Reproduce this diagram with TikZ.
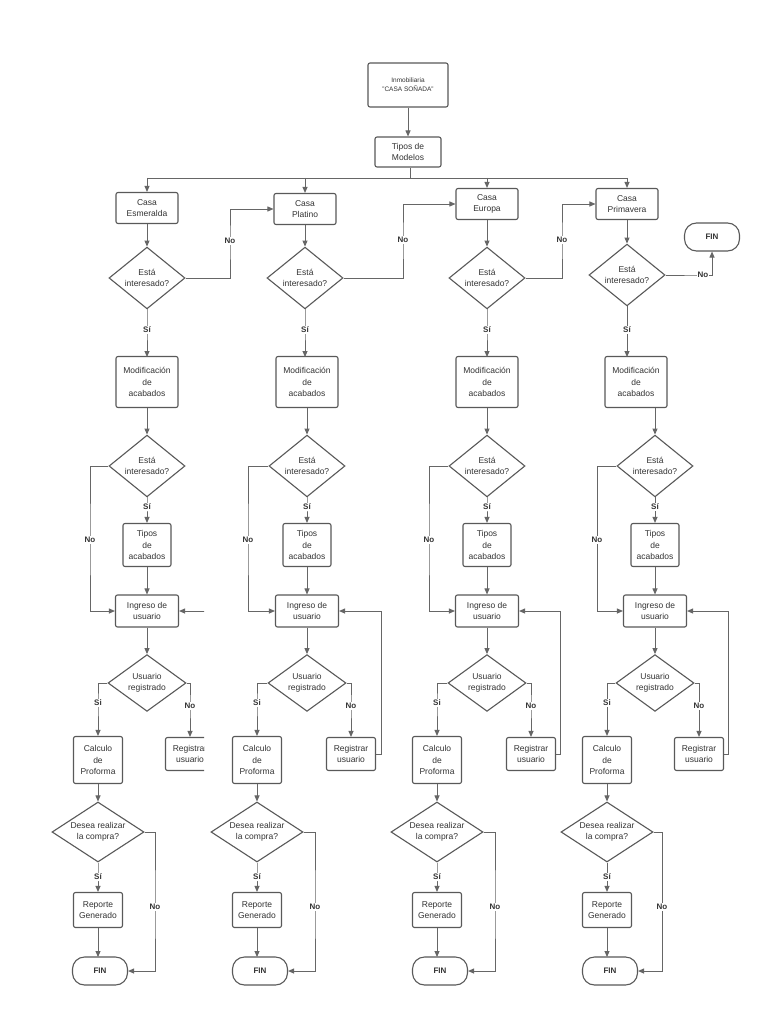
\documentclass[tikz,border=0pt]{standalone}
\usepackage{fontspec}
\setmainfont{Liberation Sans}
\usetikzlibrary{shapes.geometric,arrows.meta}
\begin{document}
\begin{tikzpicture}[x=1pt,y=-1pt,
  box/.style={draw=black!65,line width=1.1pt,rounded corners=2pt,fill=white,align=center,inner sep=1pt,font=\fontsize{8.5}{11.5}\selectfont,text=black!80},
  dia/.style={draw=black!65,line width=1.1pt,diamond,fill=white,align=center,inner sep=0pt,font=\fontsize{8.5}{11}\selectfont,text=black!80},
  term/.style={draw=black!65,line width=1.1pt,rounded corners=12pt,fill=white,minimum width=55pt,minimum height=28pt,font=\bfseries\fontsize{8}{10}\selectfont,text=black!80},
  arr/.style={draw=black!60,line width=0.9pt,-{Triangle[length=6pt,width=5pt]}},
  ln/.style={draw=black!60,line width=0.9pt},
  lbl/.style={fill=white,inner sep=1pt,font=\bfseries\fontsize{8}{9}\selectfont,text=black!80}]
\useasboundingbox[fill=white] (0,0) rectangle (768,1024);
\node[box,minimum width=80pt,minimum height=44pt,font=\fontsize{6.5}{9}\selectfont] (inmo) at (408,85) {Inmobiliaria\\"CASA SOÑADA"};
\node[box,minimum width=66pt,minimum height=30pt] (tipos) at (408,152) {Tipos de\\Modelos};
\draw[arr] (inmo.south) -- (tipos.south |- tipos.north);
\draw[ln] (tipos.south -| 410,0) -- (410,178);
\draw[ln] (147,178) -- (627,178);
\foreach \i/\cx/\cy/\ct/\dy/\mx/\dx/\ax/\rx/\lx/\nx/\fx/\ox/\cl in {
 1/147/208/{Casa\\Esmeralda}/278/147/147/98/190/220/155/100/90/204,
 2/305/209/{Casa\\Platino}/278/307/307/257/351/381/315/260/248/768,
 3/487/204/{Casa\\Europa}/278/487/487/437/531/560/495/440/429/768,
 4/627/204/{Casa\\Primavera}/275/636/655/607/699/728/662/610/597/768}{
 \node[box,minimum width=62pt,minimum height=31pt] (casa\i) at (\cx,\cy) {\ct};
 \draw[arr] (\cx,178) -- (casa\i.north);
 \node[dia,minimum width=76pt,minimum height=54pt] (da\i) at (\cx,\dy) {Está\\interesado?};
 \draw[arr] (casa\i.south) -- (da\i.north);
 \node[box,minimum width=62pt,minimum height=51pt] (mod\i) at (\mx,382) {Modificación\\de\\acabados};
 \draw[arr] (da\i.south) -- (\cx,330) node[lbl]{Sí} -- (\cx,357);
 \node[dia,minimum width=76pt,minimum height=54pt] (db\i) at (\dx,466) {Está\\interesado?};
 \draw[arr] (db\i.north |- mod\i.south) -- (db\i.north);
 \node[box,minimum width=48pt,minimum height=43pt] (ta\i) at (\dx,545) {Tipos\\de\\acabados};
 \draw[arr] (db\i.south) -- (\dx,507) node[lbl]{Sí} -- (ta\i.north);
 \node[box,minimum width=63pt,minimum height=32pt] (ing\i) at (\dx,611) {Ingreso de\\usuario};
 \draw[arr] (ta\i.south) -- (ing\i.north);
 \draw[arr] (db\i.west) -- (\ox,466) -- (\ox,540) node[lbl]{No} |- (ing\i.west);
 \node[dia,minimum width=78pt,minimum height=51pt] (us\i) at (\dx,683) {Usuario\\registrado};
 \draw[arr] (ing\i.south) -- (us\i.north);
 \node[box,minimum width=49pt,minimum height=47pt] (cal\i) at (\ax,760) {Calculo\\de\\Proforma};
 \draw[arr] (us\i.west) -| (\ax,703) node[lbl]{Si} -- (cal\i.north);
 \begin{scope}
  \clip (0,0) rectangle (\cl,1024);
  \node[box,minimum width=49pt,minimum height=33pt] (reg\i) at (\rx,754) {Registrar\\usuario};
  \draw[arr] (us\i.east) -| (\rx,706) node[lbl]{No} -- (reg\i.north);
  \draw[arr] (reg\i.east) -- (\lx,754) |- (ing\i.east);
 \end{scope}
 \node[dia,minimum width=92pt,minimum height=60pt,shape aspect=1.5] (de\i) at (\ax,832) {Desea realizar\\la compra?};
 \draw[arr] (cal\i.south) -- (de\i.north);
 \node[box,minimum width=49pt,minimum height=35pt] (rep\i) at (\ax,910) {Reporte\\Generado};
 \draw[arr] (de\i.south) -- (\ax,877) node[lbl]{Sí} -- (rep\i.north);
 \node[term] (fin\i) at (\fx,971) {FIN};
 \draw[arr] (rep\i.south) -- (\ax,957);
 \draw[arr] (de\i.east) -- (\nx,832) -- (\nx,907) node[lbl]{No} |- (fin\i.east);
}
\node[term] (fin0) at (712,237) {FIN};
\draw[arr] (da1.east) -- (230,278) -- (230,241) node[lbl]{No} |- (casa2.west);
\draw[arr] (da2.east) -- (403,278) -- (403,240) node[lbl]{No} |- (casa3.west);
\draw[arr] (da3.east) -- (562,278) -- (562,240) node[lbl]{No} |- (casa4.west);
\draw[arr] (da4.east) -- (703,275) node[lbl]{No} -- (712,275) -- (fin0.south);
\end{tikzpicture}
\end{document}
